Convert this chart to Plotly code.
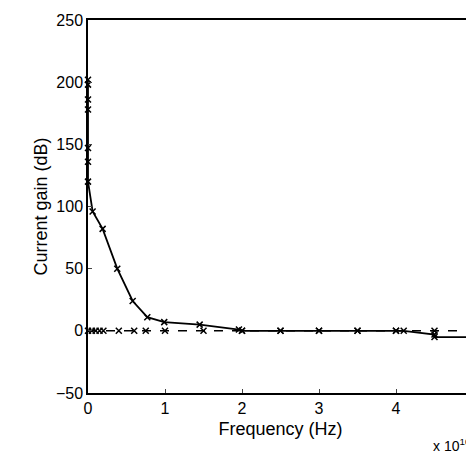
import plotly.graph_objects as go

# frequency in units of 1e10 Hz
freq_solid = [0, 0, 0, 0, 0, 0, 0, 0.06, 0.19, 0.38, 0.58, 0.77, 0.99, 1.45, 1.96, 2.0,
              2.5, 3.0, 3.5, 4.0, 4.1, 4.5, 4.5, 5.0, 5.0]
gain_solid = [202, 198, 186, 178, 147, 136, 120, 96, 82, 50, 24, 11, 7, 5, 1, 0,
              0, 0, 0, 0, 0, -3, -5, -5, -5]
freq_dash = [0, 0.05, 0.1, 0.15, 0.2, 0.4, 0.6, 0.75, 1.0, 1.5, 2.0, 2.5, 3.0, 3.5,
             4.0, 4.5, 5.0]
gain_dash = [0] * len(freq_dash)

fig = go.Figure()
fig.add_trace(go.Scatter(x=freq_dash, y=gain_dash, mode='lines+markers', cliponaxis=False,
                         line=dict(color='black', width=1.5, dash='dash'),
                         marker=dict(symbol='x-thin-open', size=6, line=dict(color='black', width=1.5))))
fig.add_trace(go.Scatter(x=freq_solid, y=gain_solid, mode='lines+markers', cliponaxis=False,
                         line=dict(color='black', width=1.8),
                         marker=dict(symbol='x-thin-open', size=6, line=dict(color='black', width=1.5))))

axis_style = dict(showline=True, linecolor='black', linewidth=1.5, mirror=True,
                  ticks='inside', ticklen=4, showgrid=False, zeroline=False,
                  tickfont=dict(size=16, color='black'))
fig.update_xaxes(range=[0, 5], dtick=1, title=dict(text='Frequency (Hz)', font=dict(size=18), standoff=6),
                 **axis_style)
fig.update_yaxes(range=[-50, 250], dtick=50, title=dict(text='Current gain (dB)', font=dict(size=18), standoff=4),
                 **axis_style)
fig.add_annotation(text='x 10<sup>10</sup>', xref='paper', yref='paper', x=1.0, y=-0.11,
                   showarrow=False, font=dict(size=14, color='black'), xanchor='right', yanchor='top')
fig.update_layout(width=474, height=451, showlegend=False, plot_bgcolor='white', paper_bgcolor='white',
                  font=dict(family='Liberation Sans, Arial', color='black'),
                  margin=dict(l=80, r=4, t=10, b=66))
fig.write_html("out.html")
